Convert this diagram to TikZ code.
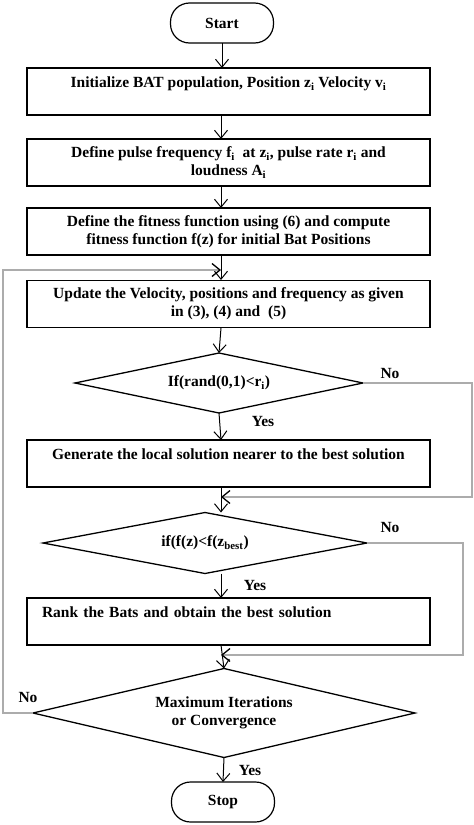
\documentclass[tikz,border=0pt]{standalone}
\usepackage{fontspec}
\setmainfont{Liberation Serif}
\usetikzlibrary{shapes.geometric,arrows.meta}

\begin{document}
\begin{tikzpicture}[x=1pt, y=-1pt, every node/.style={outer sep=0pt, font=\fontsize{15.5}{18}\selectfont\bfseries},
    term/.style={rectangle, rounded corners=19pt, draw, line width=1.2pt, minimum width=103pt, minimum height=40pt},
    procbox/.style={rectangle, draw, line width=1.5pt, minimum width=403pt, minimum height=47pt, align=center},
    decide/.style={diamond, draw, line width=1.3pt, inner sep=0pt, align=center},
    arr/.style={-{Straight Barb[length=8pt,width=13pt]}, line width=1pt},
    backline/.style={-{Straight Barb[length=8pt,width=13pt,color=black]}, gray!65, line width=1.3pt}]
    \useasboundingbox (0,0) rectangle (474,825);
    % main column
    \node (start) [term] at (222,23) {Start};
    \node (init) [procbox] at (228.5,91.5) {Initialize BAT population, Position z\textsubscript{i} Velocity v\textsubscript{i}\\ \mbox{}};
    \node (pulse) [procbox] at (228.5,162.5) {Define pulse frequency f\textsubscript{i} \ at z\textsubscript{i}, pulse rate r\textsubscript{i} and\\ loudness A\textsubscript{i}};
    \node (fit) [procbox] at (228.5,231.5) {Define the fitness function using (6) and compute\\ fitness function f(z) for initial Bat Positions};
    \node (upd) [procbox] at (228.5,304) {Update the Velocity, positions and frequency as given\\ in (3), (4) and \ (5)};
    \node (rnd) [decide, minimum width=288pt, minimum height=60pt, aspect=4.8] at (219,383) {If(rand(0,1)<r\textsubscript{i})};
    \node (gen) [procbox] at (228.5,463.5) {Generate the local solution nearer to the best solution\\ \mbox{}};
    \node (cmp) [decide, minimum width=324pt, minimum height=61pt, aspect=5.3] at (205,543) {if(f(z)<f(z\textsubscript{best})};
    \node (rank) [procbox, align=left, text width=373pt, inner xsep=15pt] at (228.5,621.5) {Rank the Bats and obtain the best solution\\ \mbox{}};
    \node (conv) [decide, minimum width=382pt, minimum height=89pt, aspect=4.3] at (224,713) {Maximum Iterations\\ or Convergence};
    \node (stop) [term] at (223,802) {Stop};
    % labels
    \node (no1) at (390,373) {No};
    \node (yes1) at (263,421) {Yes};
    \node (no2) at (390,527) {No};
    \node (yes2) at (255,585) {Yes};
    \node (no3) at (28,697) {No};
    \node (yes3) at (250,770) {Yes};
    % joins
    \coordinate (j1) at (221,270);
    \coordinate (j2) at (221,497);
    \coordinate (j3) at (221,655);
    % connectors
    \draw [arr] (start.south) -- (start.south |- init.north);
    \draw [arr] (221,115) -- (221,139);
    \draw [arr] (221,186) -- (221,208);
    \draw [arr] (221,255) -- (221,280);
    \draw [arr] (221,328) -- (rnd.north);
    \draw [arr] (rnd.south) -- (221,440);
    \draw [arr] (221,487) -- (cmp.north -| 221,0);
    \draw [arr] (cmp.south -| 221,0) -- (221,598);
    \draw [arr] (221,645) -- (conv.north);
    \draw [arr] (conv.south) -- (stop.north);
    % loops
    \draw [backline] (rnd.east) -- ++(109,0) |- (j2);
    \draw [backline] (cmp.east) -- ++(96,0) |- (j3);
    \draw [backline] (conv.west) -- ++(-30,0) |- (j1);
\end{tikzpicture}
\end{document}
